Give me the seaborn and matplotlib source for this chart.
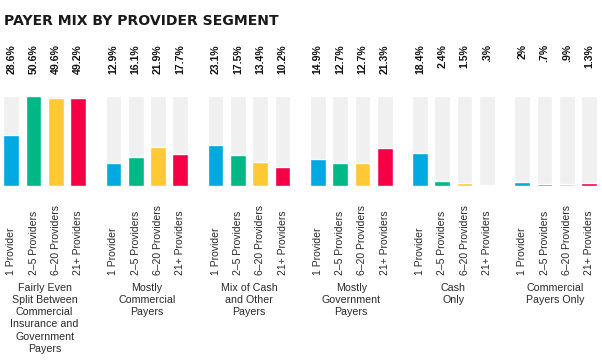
import matplotlib
matplotlib.use("Agg")
import matplotlib.pyplot as plt
import seaborn as sns
import pandas as pd

# data
segments = [
    "Fairly Even\nSplit Between\nCommercial\nInsurance and\nGovernment\nPayers",
    "Mostly\nCommercial\nPayers",
    "Mix of Cash\nand Other\nPayers",
    "Mostly\nGovernment\nPayers",
    "Cash\nOnly",
    "Commercial\nPayers Only",
]
providers = ["1 Provider", "2\u20135 Providers", "6\u201320 Providers", "21+ Providers"]
fairly_even = [28.6, 50.6, 49.6, 49.2]
mostly_commercial = [12.9, 16.1, 21.9, 17.7]
mix_cash_other = [23.1, 17.5, 13.4, 10.2]
mostly_government = [14.9, 12.7, 12.7, 21.3]
cash_only = [18.4, 2.4, 1.5, 0.3]
commercial_only = [2, 0.7, 0.9, 1.3]
value_labels = [
    ["28.6%", "50.6%", "49.6%", "49.2%"],
    ["12.9%", "16.1%", "21.9%", "17.7%"],
    ["23.1%", "17.5%", "13.4%", "10.2%"],
    ["14.9%", "12.7%", "12.7%", "21.3%"],
    ["18.4%", "2.4%", "1.5%", ".3%"],
    ["2%", ".7%", ".9%", "1.3%"],
]

series = [fairly_even, mostly_commercial, mix_cash_other,
          mostly_government, cash_only, commercial_only]
rows = []
for seg, vals in zip(segments, series):
    for p, v in zip(providers, vals):
        rows.append({"segment": seg, "provider": p, "share": v})
df = pd.DataFrame(rows)
top = df["share"].max()
df["full"] = top

colors = ["#00A9E0", "#00B886", "#FFC933", "#F50046"]
palette = dict(zip(providers, colors))

sns.set_style("white")
plt.rcParams["font.family"] = ["Liberation Sans", "DejaVu Sans"]

W, H = 602, 362
fig = plt.figure(figsize=(W / 100, H / 100), dpi=100)

pitch = 22.3
group_pitch = 102.2
first_center = 11.2
ax_bottom, ax_top = 185.5, 96.0
ax_h = ax_bottom - ax_top

for g, seg in enumerate(segments):
    left = first_center + g * group_pitch - pitch / 2
    ax = fig.add_axes([left / W, 1 - ax_bottom / H, 4 * pitch / W, ax_h / H])
    sub = df[df["segment"] == seg]
    sns.barplot(data=sub, x="provider", y="full", color="#F0F0F0",
                width=0.7, ax=ax, saturation=1)
    sns.barplot(data=sub, x="provider", y="share", hue="provider",
                palette=palette, width=0.7, ax=ax, saturation=1, legend=False)
    ax.set_xlim(-0.5, 3.5)
    ax.set_ylim(0, top)
    ax.set_xlabel("")
    ax.set_ylabel("")
    ax.set_yticks([])
    sns.despine(ax=ax, left=True, bottom=True)
    ax.tick_params(axis="x", length=0, pad=(275 - ax_bottom) * 0.72)
    for lab in ax.get_xticklabels():
        lab.set_rotation(90)
        lab.set_va("bottom")
        lab.set_fontsize(7.5)
        lab.set_color("#2a2a2a")
    for i, txt in enumerate(value_labels[g]):
        ax.text(i, (ax_bottom - 44) / ax_h, txt, rotation=90, ha="center",
                va="top", fontsize=7.6, fontweight="bold", color="#111111",
                transform=ax.get_xaxis_transform(), clip_on=False)
    ax.text(1.5, (ax_bottom - 283) / ax_h, seg, ha="center", va="top",
            fontsize=7.7, color="#2a2a2a", linespacing=1.27,
            transform=ax.get_xaxis_transform(), clip_on=False)

fig.text(4 / W, 1 - 14 / H, "PAYER MIX BY PROVIDER SEGMENT", ha="left",
         va="top", fontsize=10.1, fontweight="bold", color="#1a1a1a",
         family=["DejaVu Sans"])

fig.savefig("out.png", dpi=100)
